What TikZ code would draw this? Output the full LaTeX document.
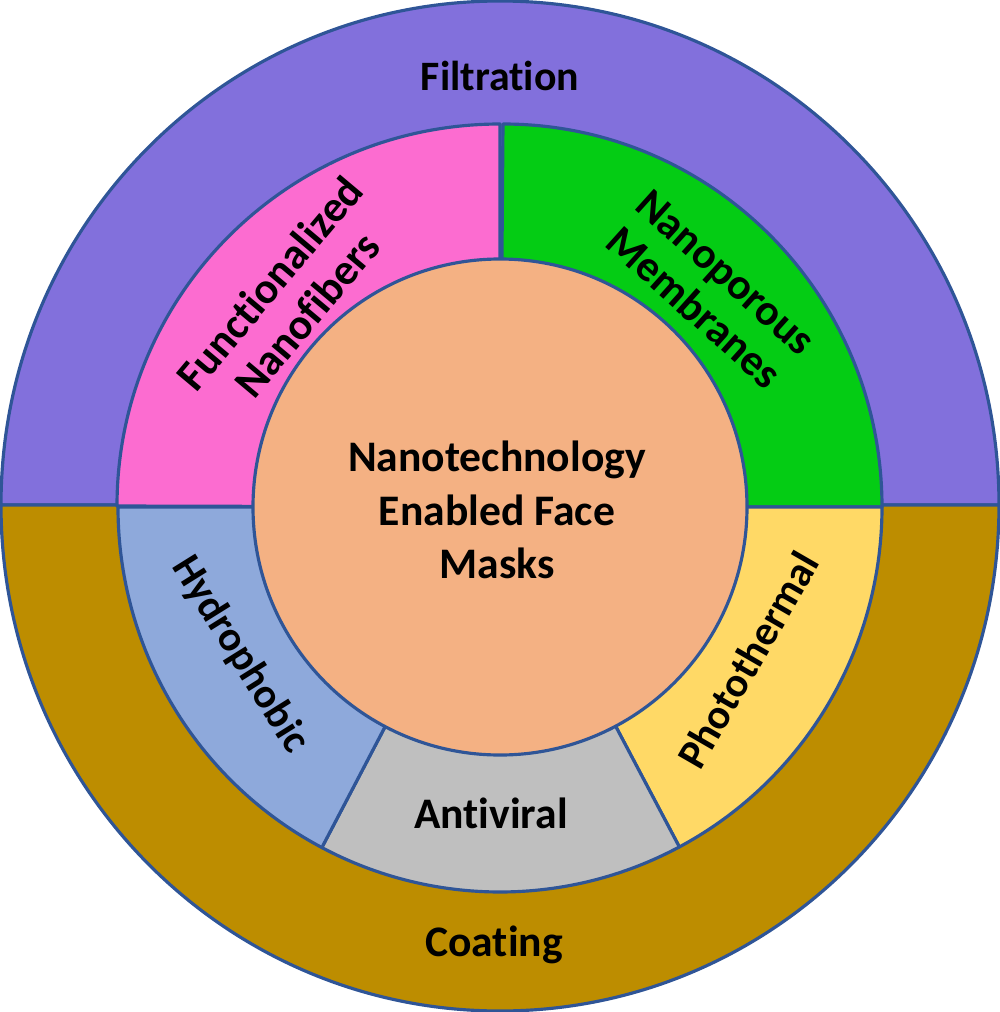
\documentclass[tikz,border=0pt]{standalone}
\usepackage{fontspec}
\setmainfont[Ligatures=NoCommon]{Carlito}
\definecolor{filtration}{HTML}{8270DC}
\definecolor{coating}{HTML}{BD8D00}
\definecolor{functional}{HTML}{FC6CD0}
\definecolor{nanoporous}{HTML}{04CC14}
\definecolor{photothermal}{HTML}{FFD966}
\definecolor{antiviral}{HTML}{BFBFBF}
\definecolor{hydrophobic}{HTML}{8EA9DB}
\definecolor{centre}{HTML}{F4B183}
\definecolor{edge}{HTML}{2F5597}
\tikzset{
    sector/.style={draw=edge,line width=0.9pt,line join=round},
    label/.style={font=\bfseries\fontsize{12.4}{15.2}\selectfont,align=center,text=black},
    smalllabel/.style={label,font=\bfseries\fontsize{11.9}{15.2}\selectfont},
}
\begin{document}
\begin{tikzpicture}[x=0.01cm,y=-0.01cm]
    \useasboundingbox (0,0) rectangle (1000,1012);
    \coordinate (c) at (500,507);
    \coordinate (photoend) at ([shift={(-62:382 and -385)}]c);
    \coordinate (hydrostart) at ([shift={(-117.8:382 and -385)}]c);
    % outer ring
    \draw[sector,fill=filtration] (1,505) arc[start angle=180,end angle=0,x radius=499,y radius=-504] -- cycle;
    \draw[sector,fill=coating] (1,505) arc[start angle=180,end angle=360,x radius=499,y radius=-506] -- cycle;
    % middle ring
    \draw[sector,fill=functional] (117,506) arc[start angle=180,end angle=90,x radius=383,y radius=-382] -- (c) -- cycle;
    \draw[sector,fill=nanoporous] (503,124) arc[start angle=90,end angle=0,x radius=379,y radius=-383] -- (c) -- cycle;
    \draw[sector,fill=photothermal] (882,507) arc[start angle=0,end angle=-62,x radius=382,y radius=-385] -- (c) -- cycle;
    \draw[sector,fill=antiviral] (photoend) arc[start angle=-62,end angle=-117.8,x radius=382,y radius=-385] -- (c) -- cycle;
    \draw[sector,fill=hydrophobic] (hydrostart) arc[start angle=-117.8,end angle=-180,x radius=382,y radius=-385] -- (c) -- cycle;
    % centre
    \draw[sector,fill=centre] (c) ellipse[x radius=247,y radius=248];
    % texts
    \node[smalllabel] (filtrationtext) at (500,76) {Filtration};
    \node[label] (coatingtext) at (494,945) {Coating};
    \node[label] (centretext) at (497,510) {Nanotechnology\\Enabled Face\\Masks};
    \node[label,rotate=50] (functionaltext) at (288,299) {Functionalized\\[-1.2pt]Nanofibers};
    \node[label,rotate=-42] (nanoporoustext) at (710,290) {Nanoporous\\[-1.7pt]Membranes};
    \node[smalllabel,rotate=60] (photothermaltext) at (748,660) {Photothermal};
    \node[label] (antiviraltext) at (491,813) {Antiviral};
    \node[smalllabel,rotate=-58] (hydrophobictext) at (240,655) {Hydrophobic};
\end{tikzpicture}
\end{document}
